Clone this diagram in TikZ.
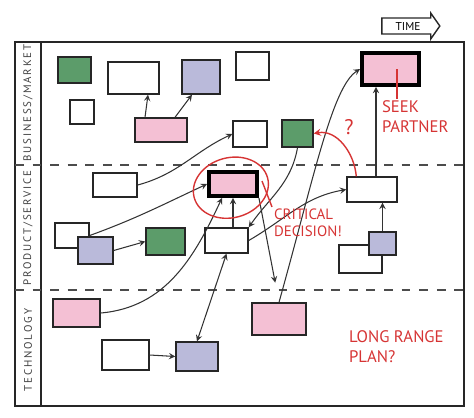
\documentclass[tikz,border=0pt]{standalone}
\usepackage{fontspec}
\usepackage{xcolor}
\usepackage{tikz}
\usetikzlibrary{shapes.arrows}
\newfontfamily\hand{PT Sans}
\definecolor{boxgreen}{RGB}{92,156,106}
\definecolor{boxblue}{RGB}{186,186,218}
\definecolor{boxpink}{RGB}{244,192,212}
\definecolor{pen}{RGB}{214,52,52}

\begin{document}
\begin{tikzpicture}
  [
    x=0.2mm, y=-0.2mm,
    sz/.style 2 args={
       minimum width =#1*0.2mm,
       minimum height=#2*0.2mm
    },
    card/.style={
       draw=black!85,
       line width=0.8pt,
       inner sep=0pt
    },
    wbox/.style={card, fill=white},
    gbox/.style={card, fill=boxgreen},
    bbox/.style={card, fill=boxblue},
    pbox/.style={card, fill=boxpink},
    keybox/.style={line width=2.2pt, draw=black},
    link/.style={
       draw=black!80,
       line width=0.6pt,
       ->, >=stealth
    },
    note/.style={draw=pen, line width=0.8pt},
    scribble/.style={
       text=pen,
       align=left,
       inner sep=1pt,
       font=\hand\fontsize{9.5}{11.4}\selectfont
    },
    lane/.style={draw=black!70, line width=0.8pt, dash pattern=on 5pt off 5pt},
    lanetext/.style={rotate=90, text=black!75, font=\hand\fontsize{6.2}{7}\selectfont}
  ]
  \useasboundingbox (0,0) rectangle (474,417);

  % frame and lanes
  \draw [card] (15,42) rectangle (464,406);
  \draw [card] (41,42) -- (41,406);
  \draw [lane] (15,165) -- (464,165);
  \draw [lane] (15,290) -- (464,290);
  \node (market)  at (28,103) [lanetext] {B\,U\,S\,I\,N\,E\,S\,S\,/\,M\,A\,R\,K\,E\,T};
  \node (product) at (28,228) [lanetext] {P\,R\,O\,D\,U\,C\,T\,/\,S\,E\,R\,V\,I\,C\,E};
  \node (tech)    at (28,350) [lanetext] {T\,E\,C\,H\,N\,O\,L\,O\,G\,Y};

  \node (time) at (408,26) [draw, black!85, line width=0.8pt, single arrow, inner sep=1pt,
        minimum height=58*0.2mm, minimum width=26*0.2mm, single arrow head extend=0.8mm,
        single arrow tip angle=110, text=black, font=\hand\fontsize{6.5}{7}\selectfont] {TIME};

  % business / market
  \node (gA)      at ( 74.5, 70.0) [gbox, sz={33}{26}] {};
  \node (wA)      at (133.5, 78.0) [wbox, sz={51}{32}] {};
  \node (bA)      at (201.0, 77.0) [bbox, sz={38}{34}] {};
  \node (wB)      at (252.5, 66.0) [wbox, sz={33}{28}] {};
  \node (wC)      at ( 82.0,112.0) [wbox, sz={24}{24}] {};
  \node (pA)      at (161.0,130.0) [pbox, sz={52}{24}] {};
  \node (wD)      at (250.0,134.0) [wbox, sz={34}{26}] {};
  \node (gB)      at (297.5,133.5) [gbox, sz={31}{27}] {};
  \node (partner) at (390.5, 69.0) [pbox, keybox, sz={57}{32}] {};

  % product / service
  \node (wE)      at (115.0,185.0) [wbox, sz={44}{24}] {};
  \node (crit)    at (233.0,184.0) [pbox, keybox, sz={48}{24}] {};
  \node (wF)      at (372.0,189.5) [wbox, sz={50}{25}] {};
  \node (wG)      at (226.5,240.5) [wbox, sz={43}{25}] {};
  \node (gC)      at (165.5,241.5) [gbox, sz={39}{27}] {};
  \node (wH)      at ( 72.0,235.5) [wbox, sz={34}{25}] {};
  \node (bB)      at ( 95.5,250.5) [bbox, sz={35}{27}] {};
  \node (wI)      at (360.5,259.0) [wbox, sz={43}{28}] {};
  \node (bC)      at (382.5,243.5) [bbox, sz={27}{23}] {};

  % technology
  \node (pB)      at ( 76.5,313.0) [pbox, sz={47}{28}] {};
  \node (wJ)      at (125.5,355.0) [wbox, sz={47}{30}] {};
  \node (bD)      at (197.0,356.5) [bbox, sz={42}{29}] {};
  \node (pC)      at (279.0,319.0) [pbox, sz={54}{32}] {};

  \draw [link] ([xshift=-3.2mm]pA.north) -- ([xshift=2.9mm]wA.south);
  \draw [link] ([xshift=2.8mm]pA.north) -- ([xshift=-1.8mm]bA.south);
  \draw [link] (wE.east) to[out=15, in=205] (wD.west);
  \draw [link] (wH.east) to[out=20, in=205] (crit.west);
  \draw [link] (bB.east) -- (gC.west);
  \draw [link] (pB.east) to[out=5, in=245] ([xshift=-2.2mm]crit.south);
  \draw [link] (wG.north -| crit.south) -- (crit.south);
  \draw [link, shorten >=4mm] (crit.south east) -- (pC.north);
  \draw [link] (gB.south) to[out=260, in=55] (wG.north east);
  \draw [link] (wG.east) to[out=30, in=190] (wF.west);
  \draw [link] ([xshift=0.8mm]wF.north) -- ([xshift=0.8mm]wF.north |- partner.south);
  \draw [link] (bC.north) -- (bC.north |- wF.south);
  \draw [link, <->] (wG.south) -- (bD.north);
  \draw [link] (wJ.east) -- (bD.west);
  \draw [link] (pC.north) .. controls +(35,-125) and +(-28,18) .. (partner.west);

  % notes
  \node (seek)    at (380,117) [scribble, anchor=west] {SEEK\\PARTNER};
  \node (query)   at (349,127) [scribble, font=\hand\fontsize{12}{13}\selectfont] {?};
  \node (critlbl) at (272,223) [scribble, anchor=west, font=\hand\fontsize{8.5}{9.7}\selectfont] {CRITICAL\\DECISION!};
  \node (plan)    at (347,347) [scribble, anchor=west] {LONG RANGE\\PLAN?};
  \coordinate (tick) at (262,181);

  \draw [note] ([xshift=1.3mm]partner.center) -- ([xshift=1.3mm]partner.center |- seek.north);
  \draw [note, rotate around={15:(crit.center)}] ([shift={(-3,3)}]crit.center) ellipse [x radius=38, y radius=30];
  \draw [note] (tick) -- (critlbl.north west);
  \draw [note, ->, >=stealth] ([xshift=2mm]wF.north west) to[out=95, in=10] (gB.east);
\end{tikzpicture}
\end{document}
